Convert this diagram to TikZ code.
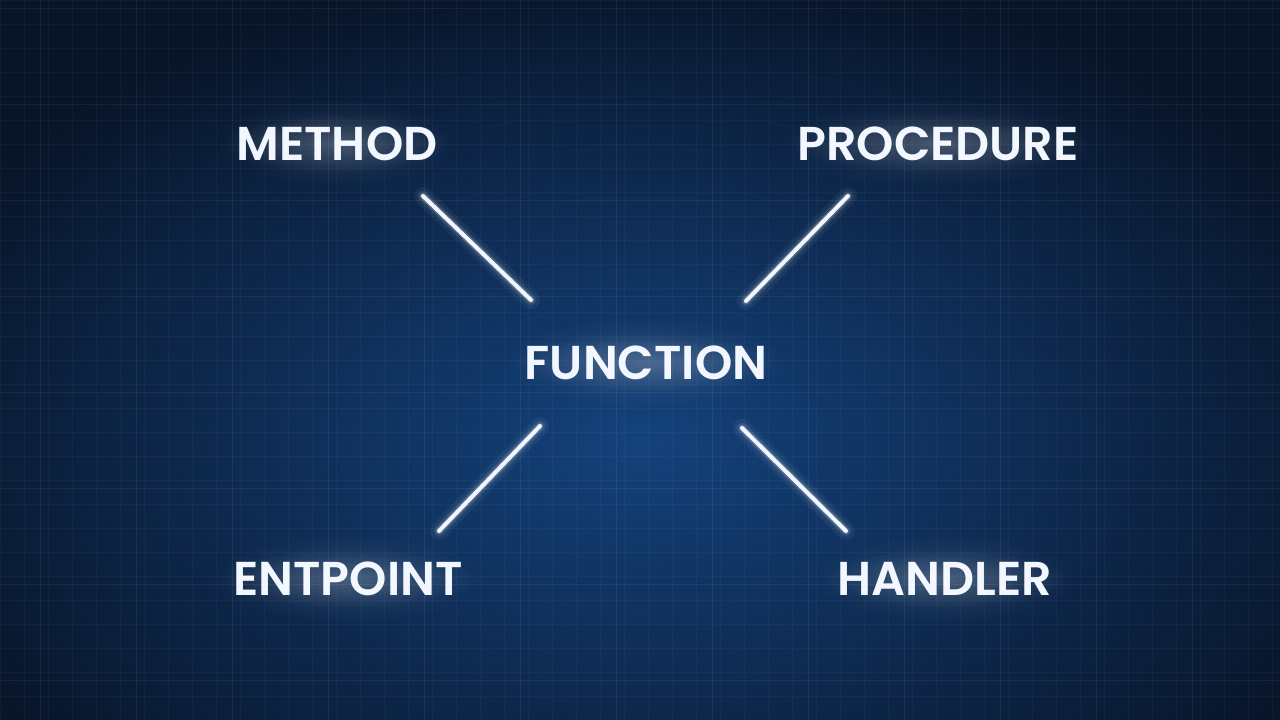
\documentclass[tikz,border=0pt]{standalone}
\usepackage{fontspec}
\usepackage{tikz}
\usetikzlibrary{calc,fadings}
\newfontfamily\glowfont{Poppins SemiBold}
\definecolor{bgEdge}{HTML}{081428}
\definecolor{bgCenter}{HTML}{14427C}
\definecolor{rayWhite}{HTML}{F2F7FF}
\tikzfading[name=softGlow, inner color=transparent!20, outer color=transparent!100]

\begin{document}
\begin{tikzpicture}[x=1pt, y=-1pt, line cap=round]
        \tikzstyle{gridFine} = [draw=white, opacity=0.03, line width=0.8]
        \tikzstyle{gridMajor} = [draw=white, opacity=0.06, line width=1]
        \tikzstyle{wordStyle} = [inner sep=0pt, anchor=base, text=rayWhite,
            font=\glowfont\fontsize{47.5}{47.5}\selectfont]
        \tikzstyle{haloStyle} = [fill=white, fill opacity=0.12, path fading=softGlow]
        \tikzstyle{rayCore} = [draw=rayWhite, line width=4]
        % background
        \useasboundingbox (0,0) rectangle (1280,720);
        \fill[bgEdge] (0,0) rectangle (1280,720);
        \begin{scope}
            \clip (0,0) rectangle (1280,720);
            \shade[inner color=bgCenter, outer color=bgEdge]
                (640,440) ellipse (800 and 480);
        \end{scope}
        \foreach \gx in {0,24,...,1280}
            \path[gridFine] (\gx,0) -- (\gx,720);
        \foreach \gy in {0,24,...,720}
            \path[gridFine] (0,\gy) -- (1280,\gy);
        \foreach \gx in {40,136,...,1280}
            \path[gridMajor] (\gx,0) -- (\gx,720);
        \foreach \gy in {8,104,...,720}
            \path[gridMajor] (0,\gy) -- (1280,\gy);
        % words
        \foreach \name/\word/\px/\py/\rx in {method/METHOD/337/160/125,
                procedure/PROCEDURE/938/160/165, function/FUNCTION/646/379/145,
                entpoint/ENTPOINT/348/595/140, handler/HANDLER/945/595/135} {
            \node[wordStyle] (\name) at (\px,\py) {\word};
            \path[haloStyle] (\name.center) ellipse [x radius=\rx, y radius=46];
            \path[haloStyle, fill opacity=0.2] (\name.center)
                ellipse [x radius=\rx-12, y radius=30];
        }
        % rays
        \coordinate (methodEnd) at (423,196);
        \coordinate (methodTip) at (531,300);
        \coordinate (procedureEnd) at (848,196);
        \coordinate (procedureTip) at (746,301);
        \coordinate (entpointEnd) at (439,531);
        \coordinate (entpointTip) at (540,426);
        \coordinate (handlerEnd) at (846,531);
        \coordinate (handlerTip) at (742,428);
        \foreach \from/\to in {methodEnd/methodTip, procedureEnd/procedureTip,
                                entpointEnd/entpointTip, handlerEnd/handlerTip} {
            \path[draw=white, opacity=0.05, line width=18] (\from) -- (\to);
            \path[draw=white, opacity=0.08, line width=11] (\from) -- (\to);
            \path[draw=white, opacity=0.18, line width=7] (\from) -- (\to);
            \path[rayCore] (\from) -- (\to);
        }
    \end{tikzpicture}
\end{document}
